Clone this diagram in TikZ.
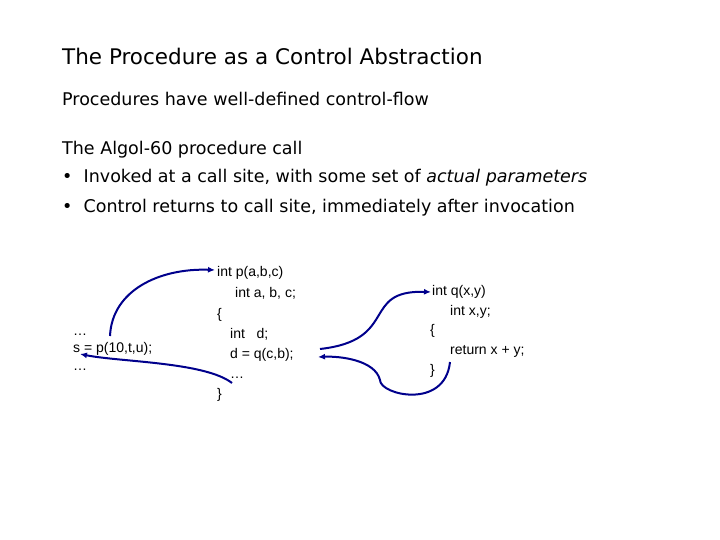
\documentclass[tikz,border=0pt]{standalone}
\usetikzlibrary{arrows.meta}
\usepackage{fontspec}
\setmainfont{DejaVu Sans}
\newfontfamily\codefont{Liberation Sans}
\begin{document}
\begin{tikzpicture}[x=1pt,y=-1pt,
  txt/.style={anchor=base west,inner sep=0pt,font=\fontsize{17.5}{20}\selectfont},
  code/.style={anchor=base west,inner sep=0pt,font=\codefont\fontsize{14}{16}\selectfont},
  arr/.style={draw={rgb,255:red,0;green,0;blue,140},line width=2pt,-{Latex[length=7pt,width=6pt]}}]
\useasboundingbox (0,0) rectangle (720,540);
\node[txt,font=\fontsize{21.5}{24}\selectfont] (title) at (62,65) {The Procedure as a Control Abstraction};
\node[txt] (l1) at (62,106) {Procedures have well-defined control-flow};
\node[txt] (l2) at (62,155) {The Algol-60 procedure call};
\node[txt] (b1) at (62,183) {\textbullet\ \ Invoked at a call site, with some set of \textit{actual parameters}};
\node[txt] (b2) at (62,212) {\textbullet\ \ Control returns to call site, immediately after invocation};
% caller
\node[code] (c1) at (73,335) {\dots};
\node[code] (c2) at (73,352) {s = p(10,t,u);};
\node[code] (c3) at (73,370) {\dots};
% p
\node[code] (p1) at (217,276) {int p(a,b,c)};
\node[code] (p2) at (235,297) {int a, b, c;};
\node[code] (p3) at (217,318) {\{};
\node[code] (p4) at (230,338) {int\ \ \ d;};
\node[code] (p5) at (230,358) {d = q(c,b);};
\node[code] (p6) at (230,378) {\dots};
\node[code] (p7) at (217,398) {\}};
% q
\node[code] (q1) at (432,295) {int q(x,y)};
\node[code] (q2) at (450,315) {int x,y;};
\node[code] (q3) at (430,334) {\{};
\node[code] (q4) at (450,354) {return x + y;};
\node[code] (q5) at (430,374) {\}};
\coordinate (a1s) at (110,336);
\coordinate (a1e) at (215,270);
\coordinate (a2s) at (232,383);
\coordinate (a2e) at (80,354);
\coordinate (a3s) at (320,349);
\coordinate (a3e) at (431,292);
\coordinate (a4s) at (450,362);
\coordinate (a4e) at (318,357);
\draw[arr] (a1s) .. controls (112,290) and (160,268) .. (a1e);
\draw[arr] (a2s) .. controls (205,362) and (120,362) .. (a2e);
\draw[arr] (a3s) .. controls (400,340) and (360,290) .. (a3e);
\draw[arr] (a4s) .. controls (445,410) and (380,395) .. (380,380) .. controls (375,360) and (340,356) .. (a4e);
\end{tikzpicture}
\end{document}
